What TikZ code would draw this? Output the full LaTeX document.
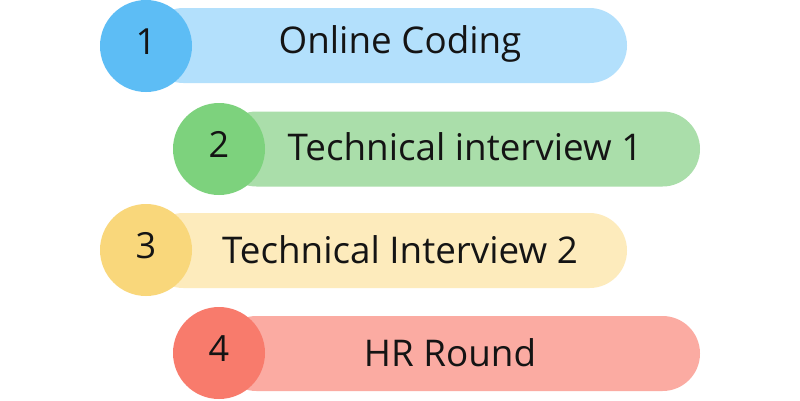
\documentclass[tikz,border=0pt]{standalone}
\usepackage{fontspec}
\setmainfont{Open Sans}
\definecolor{barA}{HTML}{B3E0FC}
\definecolor{dotA}{HTML}{5DBDF5}
\definecolor{barB}{HTML}{AADEAA}
\definecolor{dotB}{HTML}{7DD27D}
\definecolor{barC}{HTML}{FDEBBC}
\definecolor{dotC}{HTML}{F9D77B}
\definecolor{barD}{HTML}{FBABA2}
\definecolor{dotD}{HTML}{F87B6C}
\definecolor{ink}{HTML}{141414}
\tikzset{
  pill/.style={inner sep=0pt, minimum width=481pt, minimum height=75pt, rounded corners=37.5pt},
  dot/.style={circle, inner sep=0pt, minimum size=92pt, text depth=9pt, font=\fontsize{36}{40}\selectfont, text=ink},
  label/.style={inner sep=0pt, font=\fontsize{36.8}{40}\selectfont, text=ink}
}
\begin{document}
\begin{tikzpicture}[x=1pt,y=-1pt]
\useasboundingbox[fill=white] (0,0) rectangle (800,400);
\node[pill, fill=barA] (b1) at (386.5,45.5) {};
\node[pill, fill=barB] (b2) at (459.5,149) {};
\node[pill, fill=barC] (b3) at (386.5,250.5) {};
\node[pill, fill=barD] (b4) at (459.5,353.5) {};
\node[dot, fill=dotA] (c1) at (146,46) {1};
\node[dot, fill=dotB] (c2) at (219,149) {2};
\node[dot, fill=dotC] (c3) at (146,250) {3};
\node[dot, fill=dotD] (c4) at (219,353) {4};
\node[label] (t1) at (400,44) {Online Coding};
\node[label] (t2) at (465,147) {Technical interview 1};
\node[label] (t3) at (400,250) {Technical Interview 2};
\node[label] (t4) at (450,353) {HR Round};
\end{tikzpicture}
\end{document}
